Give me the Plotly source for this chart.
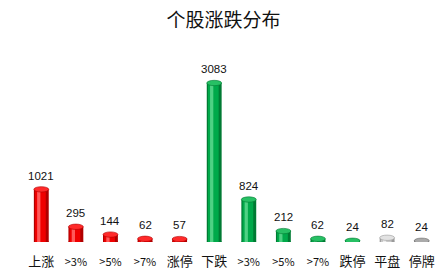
import plotly.graph_objects as go

categories = ["上涨", ">3%", ">5%", ">7%", "涨停", "下跌", ">3%", ">5%", ">7%", "跌停", "平盘", "停牌"]
values = [1021, 295, 144, 62, 57, 3083, 824, 212, 62, 24, 82, 24]
groups = ["up"] * 5 + ["down"] * 5 + ["flat", "halt"]

palette = {
    "up":   {"edge": "#B00000", "main": "#F00000", "hi": "#FF5A5A", "cap": "#FF2A2A"},
    "down": {"edge": "#007A33", "main": "#00A94A", "hi": "#4FD184", "cap": "#27C064"},
    "flat": {"edge": "#9A9A9A", "main": "#C8C8C8", "hi": "#EEEEEE", "cap": "#E2E2E2"},
    "halt": {"edge": "#6E6E6E", "main": "#959595", "hi": "#BDBDBD", "cap": "#AAAAAA"},
}

x = list(range(len(categories)))
ymax = 3529
W = 0.43
cap_h = 52  # half height of ellipse in data units

fig = go.Figure()
edge = [palette[g]["edge"] for g in groups]
main = [palette[g]["main"] for g in groups]
hi = [palette[g]["hi"] for g in groups]

fig.add_bar(x=x, y=values, width=W, marker=dict(color=edge, line_width=0), hoverinfo="skip")
fig.add_bar(x=x, y=values, width=W * 0.72, offset=-W * 0.42, marker=dict(color=main, line_width=0), hoverinfo="skip")
fig.add_bar(x=x, y=values, width=W * 0.22, offset=-W * 0.28, marker=dict(color=hi, line_width=0), hoverinfo="skip")

shapes = []
for xi, v, g in zip(x, values, groups):
    p = palette[g]
    # bottom ellipse
    shapes.append(dict(type="circle", xref="x", yref="y", x0=xi - W / 2, x1=xi + W / 2,
                       y0=-cap_h, y1=cap_h, fillcolor=p["main"], line=dict(width=0), layer="below"))
    # top ellipse
    shapes.append(dict(type="circle", xref="x", yref="y", x0=xi - W / 2, x1=xi + W / 2,
                       y0=v - cap_h, y1=v + cap_h, fillcolor=p["cap"], line=dict(width=0.6, color=p["edge"])))

annotations = []
for xi, v in zip(x, values):
    annotations.append(dict(x=xi, y=v + cap_h, text=str(v), showarrow=False, yanchor="bottom", yshift=3,
                            font=dict(size=11.5, color="#111111", family="Liberation Sans, Arial")))

ticktext = []
for c in categories:
    if c.startswith(">"):
        ticktext.append(f"<span style='font-size:11px'>{c}</span>")
    else:
        ticktext.append(c)

fig.update_layout(
    width=447, height=277,
    barmode="overlay",
    showlegend=False,
    plot_bgcolor="white", paper_bgcolor="white",
    margin=dict(l=24, r=8, t=60, b=35),
    title=dict(text="个股涨跌分布", x=0.5, xanchor="center", y=0.925, yanchor="middle",
               font=dict(size=19, color="#111111", family="Noto Sans CJK SC")),
    xaxis=dict(tickvals=x, ticktext=ticktext, range=[-0.5, len(categories) - 0.5],
               showgrid=False, zeroline=False, showline=False,
               ticks="outside", ticklen=7, tickcolor="rgba(0,0,0,0)",
               tickfont=dict(size=13, color="#111111", family="Noto Sans CJK SC")),
    yaxis=dict(range=[0, ymax], visible=False),
    shapes=shapes,
    annotations=annotations,
)

fig.write_html("out.html")
